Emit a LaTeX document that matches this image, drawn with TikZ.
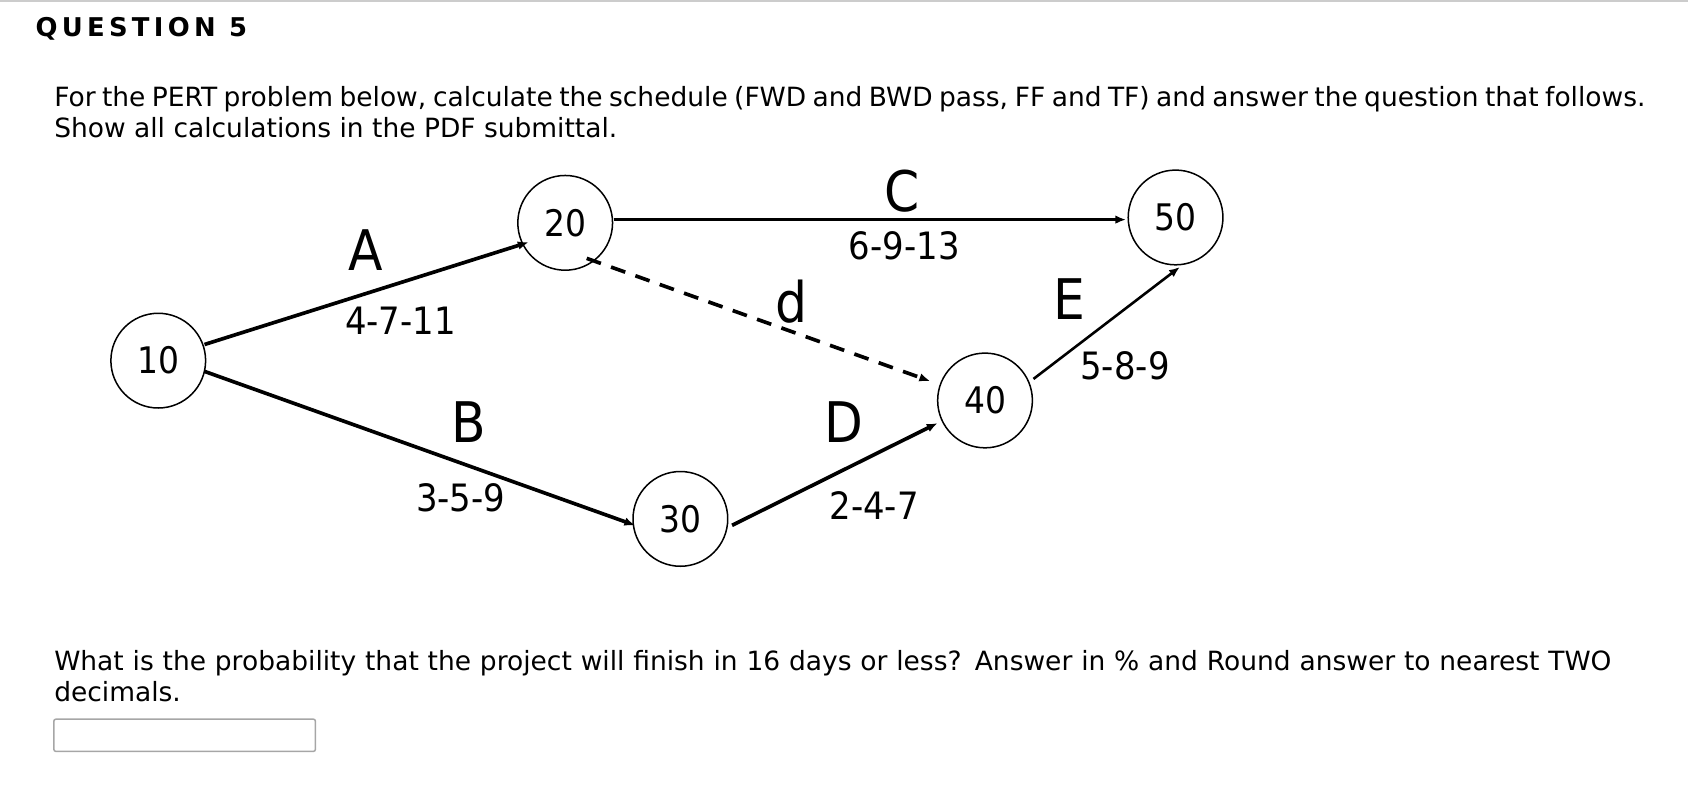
\documentclass[tikz,border=0pt]{standalone}
\usepackage{fontspec}
\usetikzlibrary{arrows.meta}
\setmainfont{DejaVu Sans}
\newfontfamily\cond{DejaVu Sans Condensed}
\begin{document}
\begin{tikzpicture}[x=0.5pt,y=-0.5pt,
  ev/.style={draw,circle,minimum size=44pt,inner sep=0pt,line width=0.7pt,font=\cond\fontsize{17}{17}\selectfont},
  act/.style={line width=1.7pt,-{Latex[length=5pt,width=4pt]}},
  big/.style={font=\cond\fontsize{26}{26}\selectfont},
  num/.style={font=\cond\fontsize{17.5}{17.5}\selectfont}]
\useasboundingbox (0,0) rectangle (1568,748);
\draw[gray!40,line width=0.8pt] (0,1) -- (1568,1);
\node[anchor=west,font=\bfseries\fontsize{12}{12}\selectfont] (q) at (26,27) {Q\,U\,E\,S\,T\,I\,O\,N\, 5};
\node[anchor=north west,text width=739pt,align=justify,inner sep=0pt,font=\fontsize{12.3}{14.2}\selectfont] (t1) at (50,80) {For the PERT problem below, calculate the schedule (FWD and BWD pass, FF and TF) and answer the question that follows. Show all calculations in the PDF submittal.};
\node[anchor=north west,text width=750pt,align=left,inner sep=0pt,font=\fontsize{12.3}{14.2}\selectfont] (t2) at (50,604) {What is the probability that the project will finish in 16 days or less? Answer in \% and Round answer to nearest TWO\\ decimals.};
\draw[gray!70,rounded corners=1pt,line width=0.7pt] (50,668) rectangle (293,698);
\node[ev] (n10) at (147,335) {10};
\node[ev] (n20) at (525,207) {20};
\node[ev] (n50) at (1092,202) {50};
\node[ev] (n40) at (915,372) {40};
\node[ev] (n30) at (632,482) {30};
\draw[act] (190,320) -- (491,225);
\draw[act] (570,204) -- (1046,204);
\draw[act,dash pattern=on 7pt off 5pt] (545,240) -- (864,354);
\draw[act] (190,345) -- (590,488);
\draw[act] (680,488) -- (871,393);
\draw[act,line width=1.2pt] (960,352) -- (1096,248);
\node[big] (la) at (340,232) {A};
\node[num] (va) at (372,298) {4-7-11};
\node[big] (lc) at (838,178) {C};
\node[num] (vc) at (840,228) {6-9-13};
\node[big] (ld) at (735,280) {d};
\node[big] (le) at (993,278) {E};
\node[num] (ve) at (1045,340) {5-8-9};
\node[big] (lb) at (435,392) {B};
\node[num] (vb) at (428,462) {3-5-9};
\node[big] (lD) at (784,392) {D};
\node[num] (vd) at (812,470) {2-4-7};
\end{tikzpicture}
\end{document}
